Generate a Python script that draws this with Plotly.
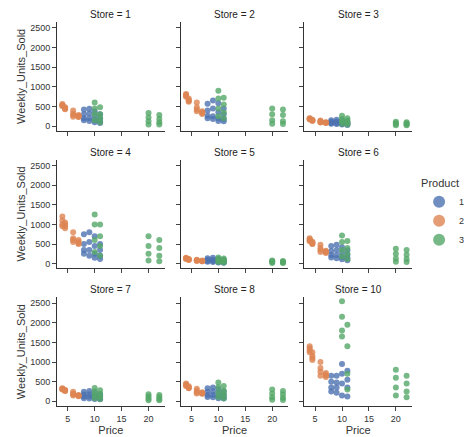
import plotly.graph_objects as go
from plotly.subplots import make_subplots

stores = [1, 2, 3, 4, 5, 6, 7, 8, 10]
products = ['1', '2', '3']
colors = ['#4c72b0', '#dd8452', '#55a868']

# prices for each product, 4 weeks per price level
price_p1 = [8] * 4 + [9] * 4 + [10] * 4 + [11] * 4
price_p2 = [4] * 4 + [4.5] * 4 + [6] * 4 + [7] * 4
price_p3 = [10] * 4 + [11] * 4 + [20] * 4 + [22] * 4

units_p1 = [
    [420, 300, 200, 150, 440, 320, 200, 130, 380, 250, 150, 100, 300, 200, 120, 80],
    [570, 400, 260, 200, 650, 450, 250, 180, 580, 350, 200, 130, 450, 300, 180, 120],
    [150, 110, 80, 60, 160, 110, 70, 50, 140, 90, 60, 40, 110, 70, 50, 30],
    [750, 500, 350, 250, 800, 550, 350, 200, 700, 450, 250, 150, 500, 350, 200, 120],
    [140, 100, 70, 50, 150, 100, 70, 40, 120, 80, 50, 30, 100, 60, 40, 25],
    [450, 320, 220, 160, 480, 350, 220, 140, 420, 280, 170, 110, 340, 230, 150, 90],
    [240, 170, 120, 80, 260, 180, 120, 70, 220, 150, 100, 60, 180, 120, 80, 50],
    [330, 240, 160, 110, 350, 250, 160, 100, 310, 200, 130, 80, 250, 170, 110, 70],
    [650, 500, 350, 250, 650, 480, 350, 220, 950, 700, 450, 150, 780, 550, 350, 120],
]
units_p2 = [
    [560, 540, 520, 510, 480, 460, 440, 430, 400, 320, 280, 240, 280, 260, 240, 230],
    [820, 800, 770, 750, 700, 660, 640, 620, 600, 480, 420, 380, 380, 350, 330, 310],
    [200, 190, 180, 170, 160, 150, 140, 130, 140, 120, 100, 90, 100, 90, 85, 80],
    [1200, 1100, 1000, 950, 1050, 1000, 950, 900, 800, 650, 600, 550, 600, 560, 520, 500],
    [150, 140, 130, 120, 120, 110, 100, 95, 100, 90, 80, 70, 80, 70, 65, 60],
    [650, 620, 590, 570, 560, 530, 510, 500, 480, 400, 350, 300, 330, 310, 290, 270],
    [330, 320, 310, 300, 290, 280, 270, 260, 240, 200, 170, 150, 160, 150, 140, 130],
    [450, 430, 410, 390, 380, 360, 340, 330, 320, 270, 230, 200, 230, 210, 200, 190],
    [1400, 1350, 1300, 1250, 1250, 1150, 1100, 1050, 1000, 850, 750, 650, 720, 680, 650, 620],
]
units_p3 = [
    [600, 450, 300, 150, 480, 300, 200, 100, 330, 220, 120, 40, 280, 180, 100, 40],
    [900, 700, 450, 250, 720, 550, 350, 200, 450, 300, 150, 60, 420, 280, 120, 50],
    [260, 180, 120, 60, 200, 140, 90, 40, 110, 80, 50, 20, 100, 70, 40, 20],
    [1250, 1000, 600, 300, 1000, 700, 450, 200, 700, 450, 250, 80, 600, 400, 200, 60],
    [160, 110, 70, 40, 130, 90, 60, 30, 80, 60, 40, 15, 70, 50, 30, 15],
    [720, 550, 350, 180, 580, 400, 250, 120, 380, 250, 130, 50, 350, 230, 120, 40],
    [340, 250, 160, 80, 280, 190, 120, 60, 180, 120, 70, 25, 160, 110, 60, 25],
    [480, 360, 220, 110, 390, 270, 170, 80, 300, 200, 100, 40, 260, 180, 90, 30],
    [2550, 2150, 1800, 1650, 1950, 1400, 700, 300, 800, 600, 350, 150, 650, 450, 250, 100],
]

prices = [price_p1, price_p2, price_p3]
units = [units_p1, units_p2, units_p3]

fig = make_subplots(rows=3, cols=3, shared_xaxes=True, shared_yaxes=True,
                    horizontal_spacing=0.045, vertical_spacing=0.075,
                    subplot_titles=['Store = %d' % s for s in stores])

for i, s in enumerate(stores):
    r, c = i // 3 + 1, i % 3 + 1
    for k, p in enumerate(products):
        fig.add_trace(go.Scatter(
            x=prices[k], y=units[k][i], mode='markers', name=p,
            legendgroup=p, showlegend=(i == 0),
            marker=dict(color=colors[k], size=6, opacity=0.8)),
            row=r, col=c)

fig.update_xaxes(range=[3, 23], tickvals=[5, 10, 15, 20], showline=True,
                 linecolor='#333', ticks='outside', ticklen=4, showgrid=False,
                 zeroline=False, showticklabels=True)
fig.update_yaxes(range=[-120, 2650], tickvals=[0, 500, 1000, 1500, 2000, 2500],
                 showline=True, linecolor='#333', ticks='outside', ticklen=4,
                 showgrid=False, zeroline=False, showticklabels=True)
for c in range(1, 4):
    fig.update_xaxes(title_text='Price', title_standoff=2, row=3, col=c)
    for r in range(1, 3):
        fig.update_xaxes(showticklabels=False, row=r, col=c)
for r in range(1, 4):
    fig.update_yaxes(title_text='Weekly_Units_Sold', title_standoff=2, row=r, col=1)
    for c in range(2, 4):
        fig.update_yaxes(showticklabels=False, row=r, col=c)

for a in fig.layout.annotations:
    a.font = dict(size=10, color='#222')

fig.update_layout(
    width=474, height=437, plot_bgcolor='white', paper_bgcolor='white',
    font=dict(family='Liberation Sans', size=9, color='#333'),
    margin=dict(l=48, r=68, t=14, b=28),
    legend=dict(title=dict(text='Product', side='top'), x=1.02, y=0.5,
                yanchor='middle', font=dict(size=9), tracegroupgap=0,
                itemsizing='constant'),
)

fig.write_html('out.html')
